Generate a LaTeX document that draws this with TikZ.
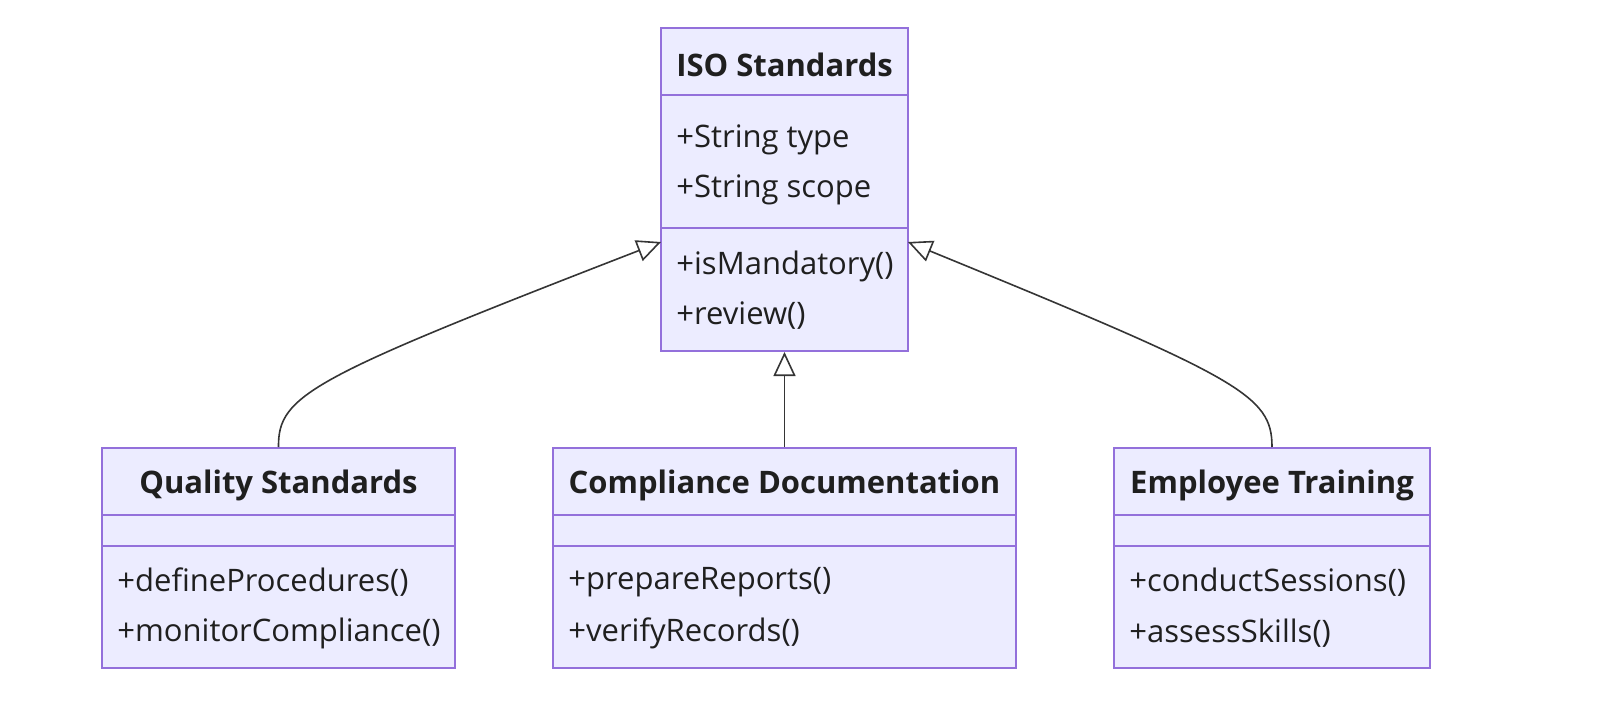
\documentclass[tikz,border=0pt]{standalone}
\usepackage{fontspec}
\setmainfont{Open Sans}
\usetikzlibrary{arrows.meta,positioning}
\definecolor{umlfill}{HTML}{ECECFF}
\definecolor{umlline}{HTML}{9370DB}
\definecolor{umltext}{HTML}{1F1F1F}
\tikzset{
	box/.style={draw=umlline, fill=umlfill, line width=1pt, inner sep=0pt},
	sep/.style={draw=umlline, line width=1pt},
	head/.style={font=\fontsize{15.5}{17}\selectfont\bfseries, text=umltext},
	item/.style={font=\fontsize{15.5}{17}\selectfont, text=umltext, anchor=west, inner sep=0pt},
	inherit/.style={draw=umltext!90, line width=0.8pt, -{Triangle[open, length=12pt, width=11pt, fill=white]}}
}
\begin{document}
\begin{tikzpicture}[x=0.5pt, y=-0.5pt]
	\useasboundingbox (0,0) rectangle (1600,706);
	% ISO Standards
	\node[box, minimum width=123.5pt, minimum height=161.5pt] (iso) at (784.5,189.5) {};
	\draw[sep] (661,95) -- (908,95);
	\draw[sep] (661,228) -- (908,228);
	\node[head] (isoT) at (784.5,65) {ISO Standards};
	\node[item] (isoA1) at (676,140) {+String type};
	\node[item] (isoA2) at (676,190) {+String scope};
	\node[item] (isoM1) at (676,266) {+isMandatory()};
	\node[item] (isoM2) at (676,316) {+review()};
	\coordinate (isoL) at (661,242);
	\coordinate (isoR) at (908,242);
	% Quality Standards
	\node[box, minimum width=176.5pt, minimum height=110pt] (qs) at (278.5,558) {};
	\draw[sep] (102,515) -- (455,515);
	\draw[sep] (102,546) -- (455,546);
	\node[head] (qsT) at (278.5,485) {Quality Standards};
	\node[item] (qsM1) at (117,582) {+defineProcedures()};
	\node[item] (qsM2) at (117,633) {+monitorCompliance()};
	% Compliance Documentation
	\node[box, minimum width=231.5pt, minimum height=110pt] (cd) at (784.5,558) {};
	\draw[sep] (553,515) -- (1016,515);
	\draw[sep] (553,546) -- (1016,546);
	\node[head] (cdT) at (784.5,485) {Compliance Documentation};
	\node[item] (cdM1) at (568,582) {+prepareReports()};
	\node[item] (cdM2) at (568,633) {+verifyRecords()};
	% Employee Training
	\node[box, minimum width=158pt, minimum height=110pt] (et) at (1272,558) {};
	\draw[sep] (1114,515) -- (1430,515);
	\draw[sep] (1114,546) -- (1430,546);
	\node[head] (etT) at (1272,485) {Employee Training};
	\node[item] (etM1) at (1129,582) {+conductSessions()};
	\node[item] (etM2) at (1129,633) {+assessSkills()};
	% inheritance
	\draw[inherit] (qs.north) .. controls (278,395) and (310,378) .. (isoL);
	\draw[inherit] (cd.north) -- (iso.south);
	\draw[inherit] (et.north) .. controls (1272,395) and (1240,378) .. (isoR);
\end{tikzpicture}
\end{document}
